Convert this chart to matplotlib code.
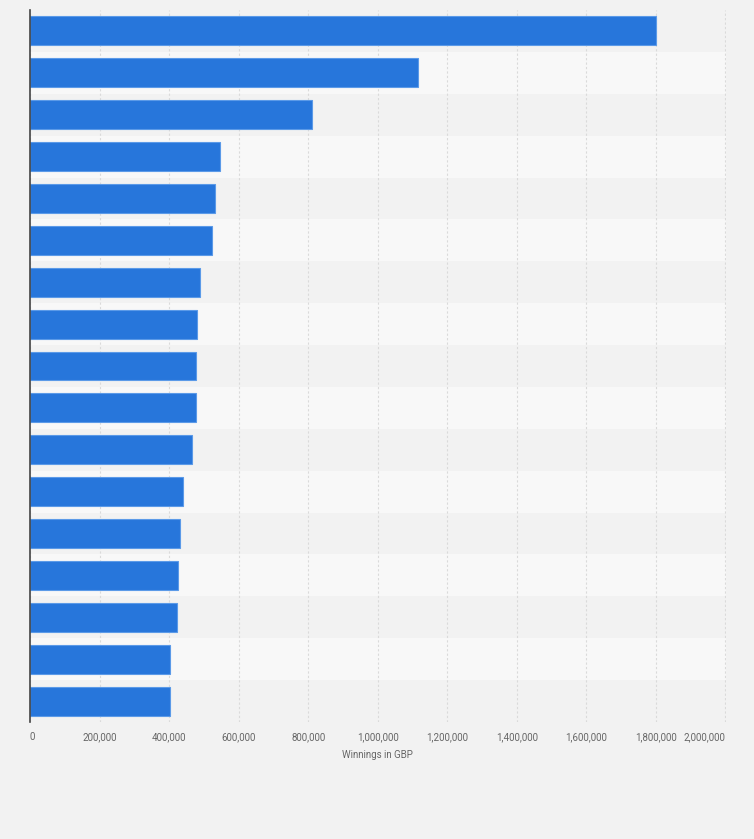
import matplotlib
matplotlib.use("Agg")
import matplotlib.pyplot as plt
from matplotlib.ticker import FuncFormatter

plt.rcParams['font.family'] = ['Roboto', 'DejaVu Sans']

ranks = [str(i) for i in range(1, 18)]
winnings = [1800000, 1115000, 810000, 547000, 533000, 524000, 490000, 481000,
            478000, 478000, 467000, 441000, 430000, 427000, 424000, 404000, 404000]
xticks = [0, 200000, 400000, 600000, 800000, 1000000, 1200000, 1400000,
          1600000, 1800000, 2000000]
xlabel = "Winnings in GBP"

W, H = 754, 839
fig = plt.figure(figsize=(W / 100, H / 100), dpi=100)
fig.patch.set_facecolor('#f2f2f2')
ax = fig.add_axes([30 / W, (H - 722) / H, (725.5 - 30) / W, (722 - 10) / H])
ax.set_facecolor('#f2f2f2')

n = len(ranks)
ypos = list(range(n))
for i in ypos:
    if i % 2 == 1:
        ax.axhspan(i - 0.5, i + 0.5, color='#f8f8f8', zorder=0, lw=0)

ax.barh(ypos, winnings, height=0.69, color='#2776db', edgecolor='#5b9ae8',
        linewidth=0.8, zorder=3)

ax.set_ylim(n - 0.5, -0.5)
ax.set_xlim(0, 2000000)
ax.set_yticks([])
ax.set_xticks(xticks)
ax.xaxis.set_major_formatter(FuncFormatter(lambda v, p: f"{int(v):,}"))
ax.tick_params(axis='x', length=0, pad=7, labelsize=7, labelcolor='#666666')
labels = ax.get_xticklabels()
labels[0].set_horizontalalignment('left')
labels[-1].set_horizontalalignment('right')
ax.grid(axis='x', color='#dadada', linestyle=(0, (2, 2)), linewidth=0.8, zorder=1)
ax.set_axisbelow(True)
for s in ['top', 'right', 'bottom']:
    ax.spines[s].set_visible(False)
ax.spines['left'].set_color('#444444')
ax.spines['left'].set_linewidth(1.2)
ax.spines['left'].set_zorder(4)
ax.set_xlabel(xlabel, fontsize=7, color='#666666', labelpad=6)

fig.savefig('out.png', dpi=100, facecolor=fig.get_facecolor())
